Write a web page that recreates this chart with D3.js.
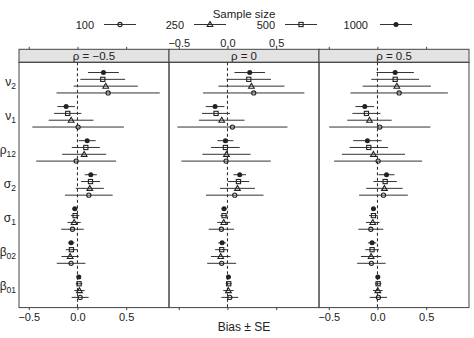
<!DOCTYPE html>
<html>
<head>
<meta charset="utf-8">
<script src="https://cdn.jsdelivr.net/npm/d3@7"></script>
<style>
  html, body { margin: 0; padding: 0; background: #fff; }
  svg { display: block; }
  text { font-family: "Liberation Sans", Arial, sans-serif; fill: #222; }
</style>
</head>
<body>
<svg id="chart" width="474" height="338"></svg>
<script>
// Parameters, top to bottom
const paramSymbols = ["ν", "ν", "ρ", "σ", "σ", "β", "β"];
const paramSubs    = ["2", "1", "12", "2", "1", "02", "01"];
const sampleSizes  = [100, 250, 500, 1000];
const rhoValues    = [-0.5, 0, 0.5];
const rhoLabels    = ["ρ = −0.5", "ρ = 0", "ρ = 0.5"];
const xTicks       = [-0.5, 0, 0.5];

// Bias per parameter, columns follow sampleSizes
const biasRhoNeg = [
  [0.315, 0.29, 0.26, 0.267],
  [0.007, -0.065, -0.1, -0.116],
  [-0.013, 0.069, 0.086, 0.1],
  [0.117, 0.127, 0.134, 0.137],
  [-0.051, -0.034, -0.024, -0.027],
  [-0.065, -0.075, -0.062, -0.065],
  [0.028, 0.021, 0.017, 0.014]
];
const seRhoNeg = [
  [0.53, 0.33, 0.23, 0.158],
  [0.47, 0.23, 0.14, 0.09],
  [0.41, 0.226, 0.144, 0.087],
  [0.245, 0.144, 0.098, 0.062],
  [0.116, 0.068, 0.043, 0.026],
  [0.147, 0.089, 0.058, 0.033],
  [0.087, 0.053, 0.034, 0.022]
];
const biasRhoZero = [
  [0.27, 0.246, 0.219, 0.229],
  [0.051, -0.059, -0.117, -0.127],
  [-0.014, -0.01, -0.021, -0.021],
  [0.075, 0.103, 0.113, 0.126],
  [-0.062, -0.038, -0.035, -0.035],
  [-0.059, -0.069, -0.059, -0.055],
  [0.024, 0.01, 0.013, 0.01]
];
const seRhoZero = [
  [0.52, 0.339, 0.228, 0.157],
  [0.565, 0.234, 0.144, 0.096],
  [0.459, 0.247, 0.147, 0.082],
  [0.295, 0.18, 0.11, 0.065],
  [0.13, 0.067, 0.036, 0.027],
  [0.149, 0.1, 0.067, 0.039],
  [0.087, 0.053, 0.031, 0.021]
];
const biasRhoPos = [
  [0.223, 0.199, 0.182, 0.182],
  [0.024, -0.082, -0.113, -0.13],
  [0.007, -0.041, -0.089, -0.103],
  [0.062, 0.072, 0.079, 0.093],
  [-0.068, -0.048, -0.041, -0.041],
  [-0.062, -0.065, -0.055, -0.055],
  [0.01, 0.004, 0.007, 0.004]
];
const seRhoPos = [
  [0.5, 0.35, 0.245, 0.192],
  [0.519, 0.228, 0.144, 0.096],
  [0.452, 0.324, 0.197, 0.146],
  [0.25, 0.187, 0.12, 0.082],
  [0.128, 0.069, 0.045, 0.024],
  [0.146, 0.104, 0.07, 0.043],
  [0.089, 0.05, 0.033, 0.022]
];
const biasByRho = [biasRhoNeg, biasRhoZero, biasRhoPos];
const seByRho   = [seRhoNeg, seRhoZero, seRhoPos];

const svg = d3.select("#chart");
const ink = "#222";

// Layout
const panelLeft = 19, panelW = 150, stripTop = 49.3, stripH = 13, panelBottom = 307.6;
const panelTop = stripTop + stripH;

// One row per (parameter, sample size), with a blank row between parameters
const rowsPerGroup = sampleSizes.length + 1;
const nRows = paramSymbols.length * rowsPerGroup - 1;
const y = d3.scaleLinear().domain([-1.5, nRows - 1 + 1.5]).range([panelTop, panelBottom]);
const rowOf = (g, s) => g * rowsPerGroup + (sampleSizes.length - 1 - s);

// Marker drawing per sample size
const markerDraw = [
  (g, cx, cy) => g.append("circle").attr("cx", cx).attr("cy", cy).attr("r", 2.1)
      .attr("fill", "none").attr("stroke", ink).attr("stroke-width", 1.1),
  (g, cx, cy) => g.append("path")
      .attr("d", d3.symbol().type(d3.symbolTriangle).size(14)())
      .attr("transform", `translate(${cx},${cy + 0.4})`)
      .attr("fill", "none").attr("stroke", ink).attr("stroke-width", 1.1),
  (g, cx, cy) => g.append("rect").attr("x", cx - 2.1).attr("y", cy - 2.1)
      .attr("width", 4.2).attr("height", 4.2)
      .attr("fill", "none").attr("stroke", ink).attr("stroke-width", 1.1),
  (g, cx, cy) => g.append("circle").attr("cx", cx).attr("cy", cy).attr("r", 2.5)
      .attr("fill", ink)
];

const fmt = d => d3.format(".1f")(d).replace("-", "−");

rhoValues.forEach((rho, p) => {
  const x0 = panelLeft + p * panelW;
  const x = d3.scaleLinear().domain([-0.6, 0.94]).range([x0, x0 + panelW]);
  const g = svg.append("g");

  // strip
  g.append("rect").attr("x", x0).attr("y", stripTop).attr("width", panelW).attr("height", stripH)
    .attr("fill", "#e3e3e3").attr("stroke", "#444").attr("stroke-width", 1);
  g.append("text").attr("x", x0 + panelW / 2).attr("y", stripTop + stripH / 2 + 4)
    .attr("text-anchor", "middle").attr("font-size", 11.5).text(rhoLabels[p]);

  // zero reference
  g.append("line").attr("x1", x(0)).attr("x2", x(0)).attr("y1", panelTop).attr("y2", panelBottom)
    .attr("stroke", ink).attr("stroke-width", 1).attr("stroke-dasharray", "3,2.5");

  // error bars and points
  const bias = biasByRho[p], se = seByRho[p];
  paramSymbols.forEach((sym, gi) => {
    sampleSizes.forEach((n, si) => {
      const cy = y(rowOf(gi, si));
      const b = bias[gi][si], e = se[gi][si];
      g.append("line").attr("x1", x(b - e)).attr("x2", x(b + e)).attr("y1", cy).attr("y2", cy)
        .attr("stroke", "#333").attr("stroke-width", 1);
      markerDraw[si](g, x(b), cy);
    });
  });

  // panel frame
  g.append("rect").attr("x", x0).attr("y", panelTop).attr("width", panelW)
    .attr("height", panelBottom - panelTop).attr("fill", "none").attr("stroke", "#444").attr("stroke-width", 1);

  // axes: ticks on every panel, labels alternate top/bottom
  const bottom = d3.axisBottom(x).tickValues(xTicks).tickSize(2.5).tickSizeOuter(0)
    .tickFormat(p === 1 ? "" : fmt);
  const gb = g.append("g").attr("transform", `translate(0,${panelBottom})`).call(bottom);
  const top = d3.axisTop(x).tickValues(xTicks).tickSize(2.5).tickSizeOuter(0)
    .tickFormat(p === 1 ? fmt : "");
  const gt = g.append("g").attr("transform", `translate(0,${stripTop})`).call(top);
  [gb, gt].forEach(a => {
    a.select(".domain").remove();
    a.selectAll("line").attr("stroke", "#444");
    a.selectAll("text").attr("font-size", 11).attr("fill", "#222")
      .attr("font-family", "'Liberation Sans', Arial, sans-serif");
  });
  gt.selectAll("text").attr("y", -2.8).attr("dy", 0);
});

// parameter labels on the left
paramSymbols.forEach((sym, gi) => {
  const cy = (y(rowOf(gi, sampleSizes.length - 1)) + y(rowOf(gi, 0))) / 2;
  const t = svg.append("text").attr("x", 16).attr("y", cy + 3).attr("text-anchor", "end")
    .attr("font-family", "'Liberation Serif', 'DejaVu Serif', serif").attr("font-size", 12);
  t.append("tspan").text(sym);
  t.append("tspan").attr("dy", 3).attr("font-size", 8.5)
    .attr("font-family", "'Liberation Sans', Arial, sans-serif").text(paramSubs[gi]);
});

// x axis title
svg.append("text").attr("x", 244).attr("y", 331).attr("text-anchor", "middle")
  .attr("font-size", 12).text("Bias ± SE");

// legend
svg.append("text").attr("x", 244).attr("y", 17.5).attr("text-anchor", "middle")
  .attr("font-size", 11.5).text("Sample size");
const legendText = [94, 184, 275, 368];
const legendLine = [104, 194, 285, 380];
sampleSizes.forEach((n, si) => {
  const cy = 24.5;
  svg.append("text").attr("x", legendText[si]).attr("y", cy + 4).attr("text-anchor", "end")
    .attr("font-size", 11).text(n);
  svg.append("line").attr("x1", legendLine[si]).attr("x2", legendLine[si] + 32)
    .attr("y1", cy).attr("y2", cy).attr("stroke", "#333").attr("stroke-width", 1);
  markerDraw[si](svg, legendLine[si] + 16, cy);
});
</script>
</body>
</html>
